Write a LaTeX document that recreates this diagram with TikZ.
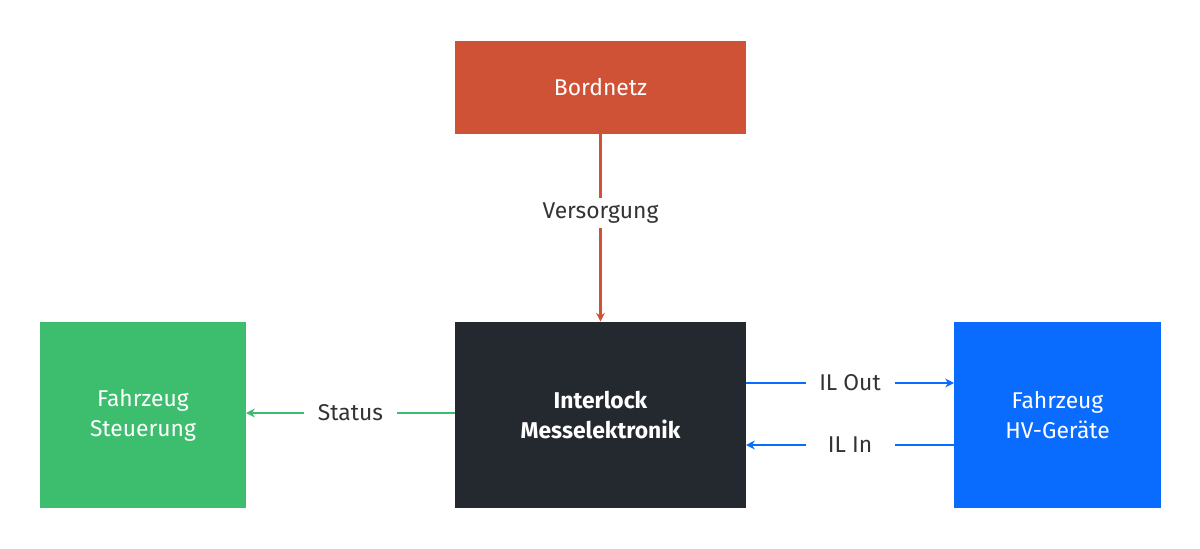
\documentclass[tikz,border=0pt]{standalone}
\usepackage{fontspec}
\setmainfont{Fira Sans}
\usetikzlibrary{arrows.meta}
\definecolor{cred}{HTML}{CF5236}
\definecolor{cdark}{HTML}{23292F}
\definecolor{cgreen}{HTML}{3DBE6E}
\definecolor{cblue}{HTML}{0A6CFF}
\begin{document}
\begin{tikzpicture}[x=0.02cm,y=-0.02cm,
 box/.style={draw=none,inner sep=0,text=white,align=center,font=\fontsize{13}{17}\selectfont\addfontfeature{Weight=Light}},
 lbl/.style={fill=white,inner sep=0,align=center,font=\fontsize{13}{17}\selectfont,text=black!80},
 con/.style={line width=1.2pt,-{Stealth[length=5pt,width=5pt]}}]
\useasboundingbox (0,0) rectangle (1200,548);
\node[box,fill=cred,minimum width=291*0.02cm,minimum height=93*0.02cm] (bn) at (600.5,87.5) {Bordnetz};
\node[box,fill=cdark,minimum width=291*0.02cm,minimum height=186*0.02cm,font=\fontsize{13}{17}\selectfont\bfseries] (ie) at (600.5,415) {Interlock\\Messelektronik};
\node[box,fill=cgreen,minimum width=206*0.02cm,minimum height=186*0.02cm] (fs) at (143,415) {Fahrzeug\\Steuerung};
\node[box,fill=cblue,minimum width=207*0.02cm,minimum height=186*0.02cm] (hv) at (1057.5,415) {Fahrzeug\\HV-Geräte};
\coordinate (ieo) at (746,383); \coordinate (hvo) at (954,383);
\coordinate (hvi) at (954,445); \coordinate (iei) at (746,445);
\coordinate (ies) at (455,413); \coordinate (fss) at (246,413);
\draw[con,cred] (bn.south) -- (ie.north) node[lbl,pos=0.42,minimum width=206*0.02cm,minimum height=30*0.02cm] {Versorgung};
\draw[con,cgreen] (ies) -- (fss) node[lbl,midway,minimum width=93*0.02cm,minimum height=30*0.02cm] {Status};
\draw[con,cblue] (ieo) -- (hvo) node[lbl,midway,minimum width=89*0.02cm,minimum height=30*0.02cm] {IL Out};
\draw[con,cblue] (hvi) -- (iei) node[lbl,midway,minimum width=89*0.02cm,minimum height=30*0.02cm] {IL In};
\end{tikzpicture}
\end{document}
